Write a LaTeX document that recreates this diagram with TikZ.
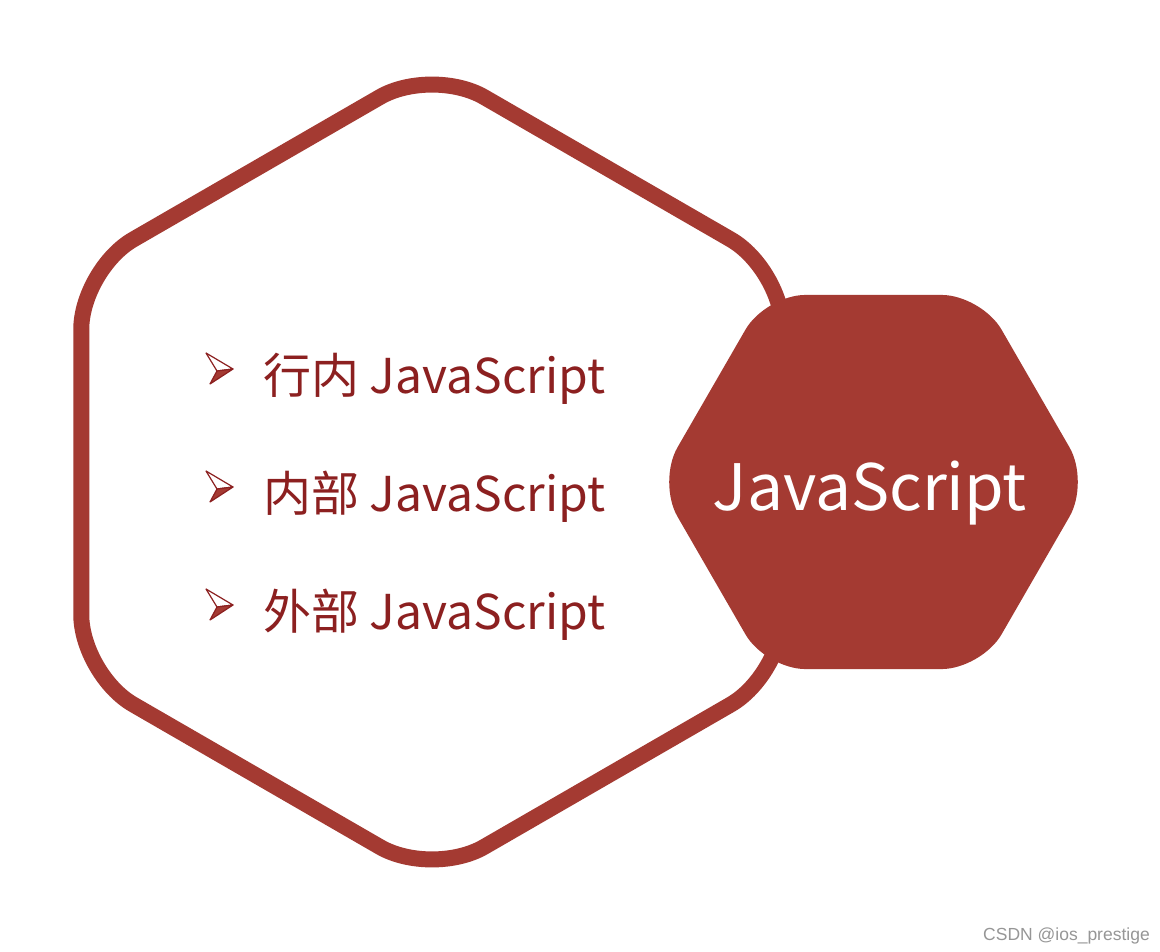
\documentclass[tikz,border=0pt]{standalone}
\usepackage{fontspec}
\usepackage{xcolor}
\usepackage{tikz}
\usetikzlibrary{shapes.geometric,positioning}
\newfontfamily\cjk{Noto Sans CJK SC}
\newfontfamily\markfont{Liberation Sans}
\definecolor{jsred}{RGB}{164,58,50}
\definecolor{itemred}{RGB}{140,32,32}
\definecolor{markgray}{RGB}{150,150,150}
\tikzset{
  hexbig/.style={regular polygon, regular polygon sides=6, shape border rotate=30,
    minimum size=810pt, inner sep=0pt, draw=jsred, line width=16pt, rounded corners=60pt},
  hexsmall/.style={regular polygon, regular polygon sides=6,
    minimum size=432pt, inner sep=0pt, fill=jsred, rounded corners=40pt},
  item/.style={anchor=base west, text=itemred, inner sep=0pt,
    font=\cjk\fontsize{48}{56}\selectfont},
  pics/dart/.style={code={
    \filldraw[draw=itemred, fill=white, line width=1.2pt, line join=round]
      (-57,-40) -- (-30,-24) -- (-46,-22) -- cycle;
    \filldraw[draw=itemred, fill=jsred, line width=1.2pt, line join=round]
      (-46,-22) -- (-30,-24) -- (-53,-9) -- cycle;
  }}
}
\begin{document}
\begin{tikzpicture}[x=1pt,y=-1pt]
    \useasboundingbox[fill=white] (0,0) rectangle (1160,952);

    % Outer hexagon (outline)
    \node[hexbig] (outer) at (432,472) {};

    % Inner hexagon (filled)
    \node[hexsmall] (core) at (873.5,482) {};
    \node[text=white, inner sep=0pt, anchor=base,
      font=\cjk\fontsize{64}{72}\selectfont] (title) at (870,510) {JavaScript};

    % Items
    \node[item] (inline) at (263,393) {行内 JavaScript};
    \node[item] (internal) at (263,511) {内部 JavaScript};
    \node[item] (external) at (263,629) {外部 JavaScript};

    % Bullets
    \pic at (inline.base west) {dart};
    \pic at (internal.base west) {dart};
    \pic at (external.base west) {dart};

    % Watermark
    \node[anchor=base east, inner sep=0pt, text=markgray,
      font=\markfont\fontsize{17.5}{20}\selectfont] (mark) at (1150,940) {CSDN @ios\_prestige};
\end{tikzpicture}
\end{document}
